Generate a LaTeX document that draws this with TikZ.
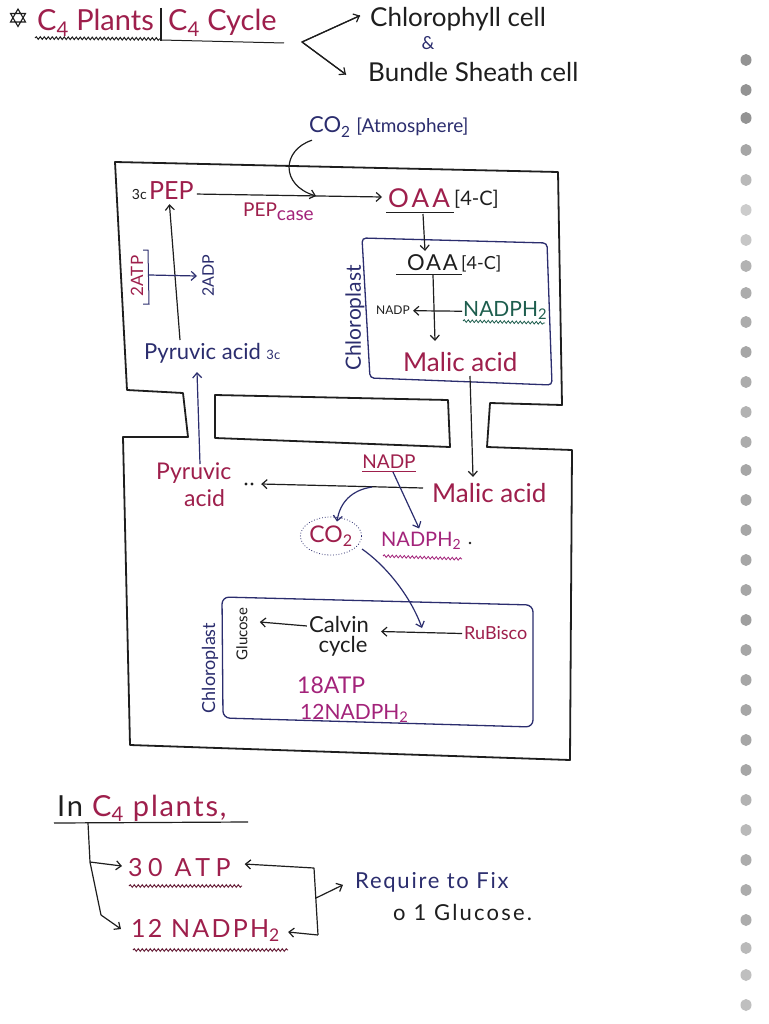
\documentclass[tikz,border=0pt]{standalone}
\usepackage{fontspec}
\setmainfont{Lato}
\usetikzlibrary{arrows.meta,decorations.pathmorphing,shapes.geometric,calc}
\definecolor{crim}{HTML}{9E1F4C}
\definecolor{navyb}{HTML}{2B2D6E}
\definecolor{magb}{HTML}{A3237A}
\definecolor{greenb}{HTML}{1E5E4E}
\definecolor{ink}{HTML}{1E1E1E}
\newcommand\myfs[1]{\fontsize{#1}{#1}\selectfont}
\newcommand\lsp[1]{\addfontfeature{LetterSpace=#1}}
\tikzset{
  lbl/.style={inner sep=0pt},
  arr/.style={-{Straight Barb[length=5pt,width=9pt]}, line width=1.2pt},
  wall/.style={line width=1.8pt, draw=ink, line join=round},
  chl/.style={line width=1.3pt, draw=navyb, rounded corners=4pt},
  wavy/.style={decorate, decoration={snake,amplitude=1.3pt,segment length=4pt}, line width=1pt},
}
\begin{document}
\begin{tikzpicture}[x=1pt,y=-1pt]
\path[use as bounding box, fill=white] (0,0) rectangle (768,1024);

% spiral holes
\foreach \yy/\cc in {60/gray!85,90/gray!85,118/gray!85,150/gray!70,180/gray!55,210/gray!40,240/gray!45,266/gray!60,293/gray!65,322/gray!65,352/gray!70,382/gray!65,412/gray!60,442/gray!65,470/gray!70,500/gray!70,530/gray!70,560/gray!70,590/gray!70,620/gray!75,650/gray!70,680/gray!70,710/gray!70,740/gray!70,770/gray!70,800/gray!60,830/gray!55,860/gray!65,890/gray!65,920/gray!65,948/gray!55,975/gray!50,1005/gray!50}
  \fill[\cc] (746,\yy) ellipse [x radius=5.5pt, y radius=6pt];

% title
\draw[ink,line width=1.1pt] (18,9) -- (25.5,22) -- (10.5,22) -- cycle (18,26.5) -- (10.5,13.5) -- (25.5,13.5) -- cycle;
\node[lbl,crim,font=\myfs{29},anchor=base west] (t1) at (37,31) {C\textsubscript{4} Plants};
\node[lbl,crim,font=\myfs{29},anchor=base west] (t2) at (168,31) {C\textsubscript{4} Cycle};
\draw[ink,line width=1.2pt] (161,8) -- (161,41);
\draw[ink,wavy] (35,38) -- (161,39);
\draw[ink,line width=1pt] (161,40) -- (284,43);
\coordinate (apex) at (302,42);
\node[lbl,ink,font=\myfs{26},anchor=base west] (chlc) at (370,27) {Chlorophyll cell};
\node[lbl,navyb,font=\myfs{18},anchor=base] (amp) at (428,50) {\&};
\node[lbl,ink,font=\myfs{26},anchor=base west] (bsc) at (368,82) {Bundle Sheath cell};
\draw[ink,line width=1.2pt] ([xshift=-10pt,yshift=4pt]chlc.west) -- (apex) -- ([xshift=-22pt,yshift=-2pt]bsc.west);
\draw[arr,ink] (apex) -- ([xshift=-10pt,yshift=4pt]chlc.west);
\draw[arr,ink] (apex) -- ([xshift=-22pt,yshift=-2pt]bsc.west);

% atmosphere CO2
\node[lbl,navyb,font=\myfs{22},anchor=base west] (co2a) at (309,133) {CO\textsubscript{2} {\myfs{19}[Atmosphere]}};

% cell walls
\draw[wall] (115,162) -- (558,172) -- (562,405) -- (490,403) -- (487,447) -- (572,450) -- (570,760) -- (130,745) -- (123,437) -- (188,437) -- (183,393) -- (127,390) -- cycle;
\draw[wall] (215,395) -- (448,400) -- (450,447) -- (215,438) -- cycle;

% mesophyll contents
\node[lbl,crim,font=\myfs{25},anchor=base west] (pep) at (149,200) {PEP};
\node[lbl,ink,font=\myfs{14},anchor=base east] (pep3c) at ([xshift=-2pt]pep.base west) {3c};
\node[lbl,crim,font={\myfs{26}\lsp{12}},anchor=base west] (oaa) at (388,208) {OAA};
\node[lbl,ink,font=\myfs{20},anchor=base west] (oaab) at (454,206) {[4-C]};
\draw[ink,line width=1pt] (386,213) -- (454,213);
\coordinate (pepc) at (316,196);
\coordinate (oaaIn) at (382,197);
\draw[arr,ink] ([xshift=3pt,yshift=-3pt]pep.east) -- (oaaIn);
\draw[arr,ink] ([xshift=3pt,yshift=-3pt]co2a.south west) .. controls (282,150) and (280,185) .. (pepc);
\node[lbl,crim,font=\myfs{19},anchor=base west] (pepcase) at (243,217) {PEP{\color{magb}\myfs{19}\raisebox{-4pt}{case}}};

\node[lbl,navyb,font=\myfs{22},anchor=base west] (pyr1) at (144,359) {Pyruvic acid {\myfs{13}3c}};
\coordinate (pyrUp) at (180,340);
\draw[arr,ink] (pyrUp) -- ([xshift=-2pt,yshift=-4pt]pep.south);
\node[lbl,crim,font=\myfs{17},rotate=90] (atp2) at (137,276) {2ATP};
\draw[navyb,line width=1pt] (143,250) -- (148,250) -- (149,304) -- (143,304);
\node[lbl,navyb,font=\myfs{16},rotate=90] (adp2) at (208,276) {2ADP};
\coordinate (atpArr) at (149,275);
\draw[arr,navyb] (atpArr) -- ([xshift=-5pt]adp2.north);

% mesophyll chloroplast
\draw[chl] (362,238) -- (547,243) -- (552,385) -- (370,378) -- cycle;
\node[lbl,navyb,font=\myfs{21},rotate=90] (chl1) at (355,318) {Chloroplast};
\node[lbl,ink,font={\myfs{22}\lsp{8}},anchor=base west] (oaa2) at (407,270) {OAA};
\node[lbl,ink,font=\myfs{18},anchor=base west] (oaa2b) at (461,269) {[4-C]};
\draw[ink,line width=1pt] (396,274) -- (462,274);
\coordinate (oaaDn1) at (423,214);
\coordinate (oaaDn2) at (425,251);
\draw[arr,ink] (oaaDn1) -- (oaaDn2);
\node[lbl,crim,font=\myfs{26},anchor=base west] (mal1) at (403,371) {Malic acid};
\coordinate (malDn1) at (433,275);
\coordinate (malDn2) at (435,341);
\draw[arr,ink] (malDn1) -- (malDn2);
\node[lbl,greenb,font=\myfs{21},anchor=base west] (nadph1) at (463,316) {NADPH\textsubscript{2}};
\draw[greenb,wavy,line width=0.8pt] (463,321) -- (545,323);
\node[lbl,ink,font=\myfs{12},anchor=base west] (nadp1) at (376,314) {NADP};
\draw[arr,ink] ([xshift=-1pt,yshift=-1pt]nadph1.west) -- ([xshift=3pt,yshift=-1pt]nadp1.east);

% transport
\node[lbl,crim,font=\myfs{26},anchor=base west] (mal2) at (432,502) {Malic acid};
\node[lbl,crim,font=\myfs{23},anchor=base west] (pyr2) at (156,479) {Pyruvic};
\node[lbl,crim,font=\myfs{23},anchor=base west] (pyr2b) at (184,506) {acid};
\coordinate (malT1) at (470,376);
\coordinate (malT2) at (473,477);
\draw[arr,ink] (malT1) -- (malT2);
\coordinate (pyrT1) at (200,464);
\coordinate (pyrT2) at (197,372);
\draw[arr,navyb] (pyrT1) -- (pyrT2);

% bundle sheath contents
\coordinate (malL) at (423,488);
\node[lbl,minimum width=10pt,minimum height=4pt] (dots) at (250,484) {};
\fill[ink] (246,484) circle (1.6pt) (252,484) circle (1.6pt);
\draw[arr,ink] (malL) -- ([xshift=6pt]dots.east);
\node[lbl,crim,font=\myfs{19},anchor=base] (nadp2) at (389,468) {NADP};
\draw[crim,line width=1pt] (362,471) -- (416,471);
\node[lbl,crim,font=\myfs{23},ellipse,draw=navyb,dotted,line width=0.8pt,minimum width=54pt,minimum height=38pt] (co2b) at (331,536) {CO\textsubscript{2}};
\node[lbl,magb,font=\myfs{20},anchor=base west] (nadph2) at (381,546) {NADPH\textsubscript{2}};
\fill[ink] (470,543) circle (1.3pt);
\draw[magb,wavy,line width=0.8pt] (383,556) -- (462,559);
\coordinate (nadpD1) at (393,472);
\draw[arr,navyb] (nadpD1) -- ([xshift=-2pt,yshift=3pt]nadph2.north);
\coordinate (co2From) at (372,487);
\draw[arr,navyb] (co2From) .. controls (352,490) and (340,502) .. ([xshift=6pt,yshift=-5pt]co2b.north);

% bundle sheath chloroplast
\draw[chl,rounded corners=7pt] (222,597) -- (533,605) -- (533,727) -- (223,718) -- cycle;
\node[lbl,navyb,font=\myfs{18},rotate=90] (chl2) at (210,668) {Chloroplast};
\node[lbl,ink,font=\myfs{15},rotate=90] (glu) at (242,634) {Glucose};
\node[lbl,ink,font=\myfs{22},anchor=base] (calv) at (339,632) {Calvin};
\node[lbl,ink,font=\myfs{22},anchor=base] (calv2) at (343,652) {cycle};
\node[lbl,crim,font=\myfs{18},anchor=base west] (rub) at (464,639) {RuBisco};
\draw[arr,ink] ([xshift=-2pt,yshift=-1pt]rub.west) -- ($(calv.east |- rub.west)+(12,-1)$);
\draw[arr,ink] ([xshift=-2pt,yshift=-2pt]calv.west) -- ($(calv.west -| glu.south)+(12,-2)$);
\coordinate (rubTo) at (422,628);
\draw[arr,navyb] ([xshift=0pt,yshift=-13pt]co2b.east) .. controls (385,565) and (410,595) .. (rubTo);
\node[lbl,magb,font=\myfs{23},anchor=base west] (atp18) at (297,693) {18ATP};
\node[lbl,magb,font=\myfs{21},anchor=base west] (nadph12) at (300,719) {12NADPH\textsubscript{2}};

% summary
\node[lbl,crim,font={\myfs{29}\lsp{6}},anchor=base west] (inc4) at (57,816) {{\color{ink}In} C\textsubscript{4} plants,};
\draw[ink,line width=1.2pt] (54,823) -- (248,822);
\coordinate (b0) at (88,823);
\coordinate (b1) at (90,862);
\coordinate (b2) at (101,915);
\node[lbl,crim,font={\myfs{25}\lsp{22}},anchor=base west] (atp30) at (128,876) {30 ATP};
\node[lbl,crim,font={\myfs{25}\lsp{9}},anchor=base west] (nad12) at (131,937) {12 NADPH\textsubscript{2}};
\draw[crim!60!black,wavy,line width=0.9pt] (129,886) -- (242,886);
\draw[crim!60!black,wavy,line width=0.9pt] (133,950) -- (288,950);
\draw[ink,line width=1.2pt] (b0) -- (b1) -- (b2);
\draw[arr,ink] (b1) -- ([xshift=-6pt,yshift=1pt]atp30.west);
\draw[arr,ink] (b2) -- ([xshift=-10pt,yshift=1pt]nad12.west);
\coordinate (r0) at (314,868);
\coordinate (r1) at (318,935);
\coordinate (rm) at (316,898);
\draw[ink,line width=1.2pt] (r0) -- (r1);
\draw[arr,ink] (r0) -- ([xshift=14pt,yshift=3pt]atp30.east);
\draw[arr,ink] (r1) -- ([xshift=8pt,yshift=-2pt]nad12.east);
\node[lbl,navyb,font={\myfs{22}\lsp{8}},anchor=base west] (req) at (355,888) {Require to Fix};
\node[lbl,ink,font={\myfs{22}\lsp{10}},anchor=base west] (glc) at (393,920) {o 1 Glucose.};
\draw[arr,ink] (rm) -- ([xshift=-12pt,yshift=-3pt]req.west);
\end{tikzpicture}
\end{document}
